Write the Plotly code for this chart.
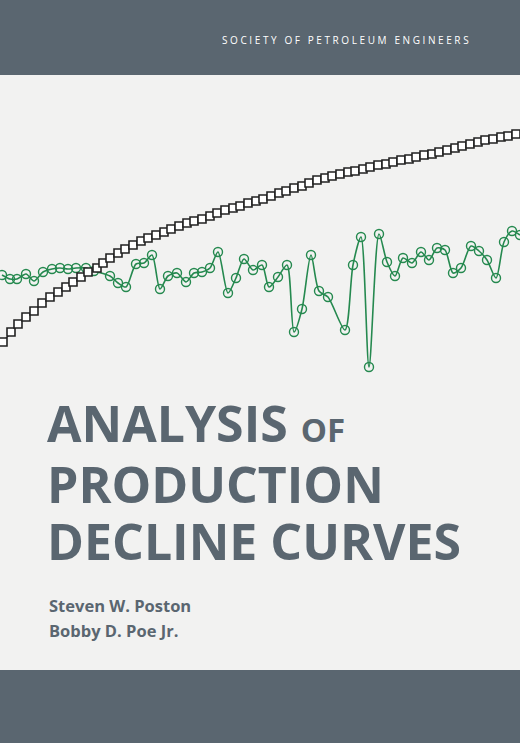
import plotly.graph_objects as go

sq_x = [3,11,18,26,34,42,50,58,66,73,81,88,97,103,110,118,125,133,141,148,156,164,171,179,187,194,202,210,217,225,233,240,248,256,263,271,279,286,294,302,309,317,325,332,340,348,355,363,370,378,386,393,401,409,416,424,432,439,447,455,462,470,478,485,493,501,508,516]
sq_y = [342,332,324,317,311,303,297,292,287,282,277,272,268,263,258,253,249,245,241,238,235,232,229,226,223,221,219,216,213,210,208,206,203,201,199,196,193,191,188,186,183,180,178,176,174,172,171,169,167,165,164,162,160,159,157,155,154,152,150,148,146,144,142,140,139,137,136,134]

gr_x = [2,10,17,26,34,43,52,60,68,76,86,94,110,118,126,136,144,152,160,168,177,186,194,202,210,218,228,236,244,253,262,269,278,287,294,302,311,319,328,345,353,361,369,379,387,395,403,412,421,429,437,445,453,461,471,479,487,496,504,512,520]
gr_y = [275,279,279,274,281,272,269,268,269,268,268,271,276,283,287,264,263,255,289,276,273,282,273,272,268,252,293,278,259,270,265,287,277,265,332,309,255,291,297,330,265,237,367,234,262,276,258,263,252,260,248,250,273,268,246,251,260,278,242,231,235]

slate = "#5a6670"
green = "#25894f"

fig = go.Figure()
fig.add_trace(go.Scatter(x=gr_x, y=gr_y, mode="lines+markers",
    line=dict(color=green, width=1.6, shape="spline", smoothing=0.8),
    marker=dict(symbol="circle-open", size=9, color=green, line=dict(width=1.4))))
fig.add_trace(go.Scatter(x=sq_x, y=sq_y, mode="lines+markers",
    line=dict(color="#222", width=1.2),
    marker=dict(symbol="square", size=8, color="white", line=dict(color="#222", width=1.6))))

fig.update_layout(
    width=520, height=743, margin=dict(l=0, r=0, t=0, b=0),
    paper_bgcolor="#f2f2f1", plot_bgcolor="rgba(0,0,0,0)", showlegend=False,
    xaxis=dict(range=[0, 520], visible=False, fixedrange=True),
    yaxis=dict(range=[743, 0], visible=False, fixedrange=True),
    shapes=[
        dict(type="rect", xref="paper", yref="paper", x0=0, x1=1, y0=1, y1=1-75/743, fillcolor=slate, line_width=0, layer="below"),
        dict(type="rect", xref="paper", yref="paper", x0=0, x1=1, y0=0, y1=73/743, fillcolor=slate, line_width=0, layer="below"),
    ],
)

def txt(x, y, s, size, color, anchor="left", family="Open Sans", weight="bold"):
    fig.add_annotation(xref="paper", yref="paper", x=x/520, y=1-y/743, text=s, showarrow=False,
        xanchor=anchor, yanchor="middle", font=dict(size=size, color=color, family=family, weight=weight))

txt(471, 40, "S O C I E T Y   O F   P E T R O L E U M   E N G I N E E R S", 10, "white", anchor="right", weight="normal")
txt(45, 423, "ANALYSIS <span style='font-size:33px'>OF</span>", 50, slate)
txt(45, 484, "PRODUCTION", 50, slate)
txt(45, 541, "DECLINE CURVES", 50, slate)
txt(47, 605, "Steven W. Poston", 16.5, slate)
txt(47, 630, "Bobby D. Poe Jr.", 16.5, slate)

fig.write_html("out.html", config={"displayModeBar": False},
               post_script="document.body.style.margin='0';document.body.style.overflow='hidden';")
